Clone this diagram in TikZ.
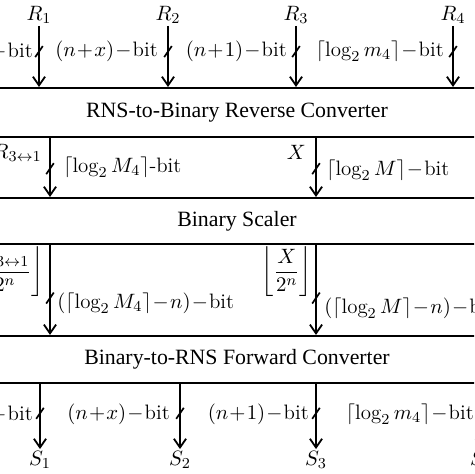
\documentclass[tikz,border=0pt]{standalone}
\usepackage{amsmath}
\usepackage{fontspec}
\newfontfamily\timesfont{Liberation Serif}
\usetikzlibrary{arrows.meta,decorations.markings}

\begin{document}
\begin{tikzpicture}[x=0.527pt,y=-0.527pt,
      >={Straight Barb[length=4.6pt,width=6.4pt]},
      bus/.style={->,line width=0.95pt,
          postaction={decorate,decoration={markings,
              mark=at position #1 with {\draw[-,line width=0.9pt] (2.9pt,-2pt) -- (-2.9pt,2pt);}}}},
      stage/.style={draw,line width=1.1pt,minimum width=272pt,inner sep=0pt,
          font=\timesfont\fontsize{11.5}{14}\selectfont},
      port/.style={inner sep=1pt,font=\fontsize{11}{13}\selectfont},
      width label/.style={inner sep=1pt,
          font={\fontsize{11}{13}\selectfont\medmuskip=1mu\relax}}]

    \useasboundingbox (0,0) rectangle (474,474);
    \fill[white] (0,0) rectangle (474,474);
    \clip (0,0) rectangle (474,474);

    % the three stages, wider than the visible part
    \node[stage, minimum height=25.8pt] (rev) at (237,112.5) {RNS-to-Binary Reverse Converter};
    \node[stage, minimum height=24.2pt] (scl) at (237,221) {Binary Scaler};
    \node[stage, minimum height=24.8pt] (fwd) at (237,359.5) {Binary-to-RNS Forward Converter};

    % residues in
    \node[port] (r1) at (39,15) {$R_1$};
    \node[port] (r2) at (168,15) {$R_2$};
    \node[port] (r3) at (296,15) {$R_3$};
    \node[port] (r4) at (453,15) {$R_4$};

    \node[width label, anchor=east] (wr1) at (35,51) {$n-\mathrm{bit}$};
    \node[width label, anchor=east] (wr2) at (160,51) {$(n+x)-\mathrm{bit}$};
    \node[width label, anchor=east] (wr3) at (289,51) {$(n+1)-\mathrm{bit}$};
    \node[width label, anchor=east] (wr4) at (446,51) {$\lceil\log_2 m_4\rceil-\mathrm{bit}$};

    \draw[bus=0.42] (r1) -- (r1 |- rev.north);
    \draw[bus=0.42] (r2) -- (r2 |- rev.north);
    \draw[bus=0.42] (r3) -- (r3 |- rev.north);
    \draw[bus=0.42] (r4) -- (r4 |- rev.north);

    % inner columns
    \coordinate (c1) at (50,0);
    \coordinate (c2) at (316,0);

    \node[port, anchor=east] (rs) at (44,153) {$R_{3\leftrightarrow 1}$};
    \node[width label, anchor=west] (wrs) at (61,167) {$\lceil\log_2 M_4\rceil$-bit};
    \node[port, anchor=east] (x) at (308,152) {$X$};
    \node[width label, anchor=west] (wx) at (324,170) {$\lceil\log_2 M\rceil-\mathrm{bit}$};

    \draw[bus=0.52] (c1 |- rev.south) -- (c1 |- scl.north);
    \draw[bus=0.52] (c2 |- rev.south) -- (c2 |- scl.north);

    \node[port, anchor=east] (rsq) at (46,272) {$\left\lfloor\dfrac{R_{3\leftrightarrow 1}}{2^n}\right\rfloor$};
    \node[width label, anchor=west] (wrsq) at (55,303) {$(\lceil\log_2 M_4\rceil-n)-\mathrm{bit}$};
    \node[port, anchor=east] (xq) at (314,272) {$\left\lfloor\dfrac{X}{2^n}\right\rfloor$};
    \node[width label, anchor=west] (wxq) at (322,308) {$(\lceil\log_2 M\rceil-n)-\mathrm{bit}$};

    \draw[bus=0.59] (c1 |- scl.south) -- (c1 |- fwd.north);
    \draw[bus=0.59] (c2 |- scl.south) -- (c2 |- fwd.north);

    % residues out
    \node[port] (s1) at (40,460) {$S_1$};
    \node[port] (s2) at (180,460) {$S_2$};
    \node[port] (s3) at (316,460) {$S_3$};
    \node[port] (s4) at (481,460) {$S_4$};

    \node[width label, anchor=east] (ws1) at (35,414) {$n-\mathrm{bit}$};
    \node[width label, anchor=east] (ws2) at (172,414) {$(n+x)-\mathrm{bit}$};
    \node[width label, anchor=east] (ws3) at (311,414) {$(n+1)-\mathrm{bit}$};
    \node[width label, anchor=east] (ws4) at (476,414) {$\lceil\log_2 m_4\rceil-\mathrm{bit}$};

    \draw[bus=0.45] (s1 |- fwd.south) -- (s1);
    \draw[bus=0.45] (s2 |- fwd.south) -- (s2);
    \draw[bus=0.45] (s3 |- fwd.south) -- (s3);
    \draw[bus=0.45] (s4 |- fwd.south) -- (s4);

\end{tikzpicture}
\end{document}
